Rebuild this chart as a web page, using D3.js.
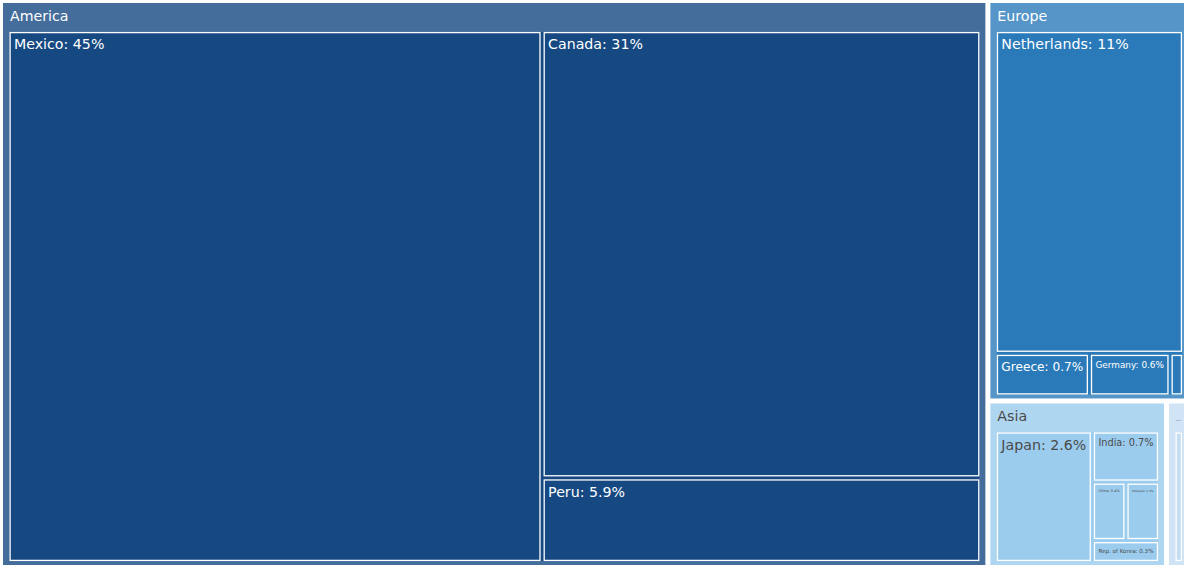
<!DOCTYPE html>
<html>
<head>
<meta charset="utf-8">
<script src="https://cdn.jsdelivr.net/npm/d3@7"></script>
<style>
body {margin: 0; background: #fff;}
svg {display: block;}
</style>
</head>
<body>
<svg id="chart" width="1184" height="565"></svg>
<script>
// continents (top level)
var continentNames = ["America", "Europe", "Asia", "Oceania"]
var continentColors = ["#164882", "#2a7aba", "#9bccee", "#c4ddf3"]
var continentTextColors = ["#ffffff", "#ffffff", "#4a4a4a", "#4a4a4a"]

// countries per continent, share in % (labels are rounded)
var americaCountries = ["Mexico", "Canada", "Peru"]
var americaValues = [45.45, 31.4, 5.94]
var europeCountries = ["Netherlands", "Greece", "Germany", "Spain"]
var europeValues = [10.6, 0.7, 0.6, 0.1]
var asiaCountries = ["Japan", "India", "China", "Malaysia", "Rep. of Korea"]
var asiaValues = [2.6, 0.7, 0.4, 0.4, 0.3]
var oceaniaCountries = ["Australia"]
var oceaniaValues = [0.59]

var countryLists = [americaCountries, europeCountries, asiaCountries, oceaniaCountries]
var valueLists = [americaValues, europeValues, asiaValues, oceaniaValues]

var fontFamily = "DejaVu Sans, Verdana, sans-serif"
var maxLabelSize = 14.2
var maxHeaderSize = 14.2
var chartW = 1184
var offset = 3

function pctFormat(v) {
    return (v >= 10 ? d3.format(".0f")(v) : d3.format(".1f")(v)) + "%"
}

var data = {
    name: "root",
    children: continentNames.map(function(c, i) {
        return {
            name: c,
            ci: i,
            children: countryLists[i].map(function(n, j) {
                return {name: n, ci: i, value: valueLists[i][j]}
            })
        }
    })
}

var root = d3.hierarchy(data)
    .sum(function(d) { return d.value || 0 })
    .sort(function(a, b) { return b.value - a.value })

var treemap = d3.treemap()
    .size([1185, 562])
    .tile(d3.treemapSquarify.ratio(1))
    .paddingInner(function(d) { return d.depth == 0 ? 5 : 3 })
    .paddingTop(function(d) { return d.depth == 1 ? 29 : 0 })
    .paddingLeft(function(d) { return d.depth == 1 ? 6.5 : 0 })
    .paddingRight(function(d) { return d.depth == 1 ? 6 : 0 })
    .paddingBottom(function(d) { return d.depth == 1 ? 4 : 0 })

treemap(root)

var svg = d3.select("#chart")
var g = svg.append("g").attr("transform", "translate(" + offset + "," + offset + ")")

function lighten(c) {
    var col = d3.rgb(c)
    return d3.rgb(col.r * 0.8 + 51, col.g * 0.8 + 51, col.b * 0.8 + 51)
}

function fitText(textSel, text, maxSize, avail, minSize) {
    textSel.attr("font-size", maxSize).text(text)
    var len = textSel.node().getComputedTextLength()
    var fs = maxSize
    if (len > avail) fs = maxSize * avail / len
    if (fs < minSize) { textSel.remove(); return 0 }
    textSel.attr("font-size", fs)
    return fs
}

// visible width left inside the picture from x
function roomTo(x0, x1, x) {
    return Math.min(x1, chartW - offset) - x
}

// continent groups
var groups = g.selectAll("g.continent")
    .data(root.children)
    .enter()
    .append("g")
    .attr("class", "continent")

groups.append("rect")
    .attr("x", function(d) { return d.x0 })
    .attr("y", function(d) { return d.y0 })
    .attr("width", function(d) { return d.x1 - d.x0 })
    .attr("height", function(d) { return d.y1 - d.y0 })
    .attr("fill", function(d) { return lighten(continentColors[d.data.ci]) })

// body behind children (shows in gaps)
groups.append("rect")
    .attr("x", function(d) { return d3.min(d.children, function(c) { return c.x0 }) })
    .attr("y", function(d) { return d3.min(d.children, function(c) { return c.y0 }) })
    .attr("width", function(d) {
        return d3.max(d.children, function(c) { return c.x1 }) - d3.min(d.children, function(c) { return c.x0 }) })
    .attr("height", function(d) {
        return d3.max(d.children, function(c) { return c.y1 }) - d3.min(d.children, function(c) { return c.y0 }) })
    .attr("fill", function(d) { return continentColors[d.data.ci] })

groups.each(function(d) {
    var t = d3.select(this).append("text")
        .attr("x", d.x0 + 7)
        .attr("y", d.y0 + 18)
        .attr("font-family", fontFamily)
        .attr("fill", continentTextColors[d.data.ci])
    fitText(t, d.data.name, maxHeaderSize, roomTo(d.x0, d.x1, d.x0 + 7) - 3, 1)
})

// country cells
var cells = g.selectAll("g.country")
    .data(root.leaves())
    .enter()
    .append("g")
    .attr("class", "country")

cells.append("rect")
    .attr("x", function(d) { return d.x0 + 0.6 })
    .attr("y", function(d) { return d.y0 + 0.6 })
    .attr("width", function(d) { return Math.max(0, d.x1 - d.x0 - 1.2) })
    .attr("height", function(d) { return Math.max(0, d.y1 - d.y0 - 1.2) })
    .attr("fill", function(d) { return continentColors[d.data.ci] })
    .attr("stroke", "#ffffff")
    .attr("stroke-width", 1.3)

cells.each(function(d) {
    var t = d3.select(this).append("text")
        .attr("x", d.x0 + 4.5)
        .attr("font-family", fontFamily)
        .attr("fill", continentTextColors[d.data.ci])
    var fs = fitText(t, d.data.name + ": " + pctFormat(d.data.value), maxLabelSize,
                     roomTo(d.x0, d.x1, d.x0 + 4.5) - 4.5, 2)
    if (fs) t.attr("y", d.y0 + 6 + fs * 0.8)
})
</script>
</body>
</html>
